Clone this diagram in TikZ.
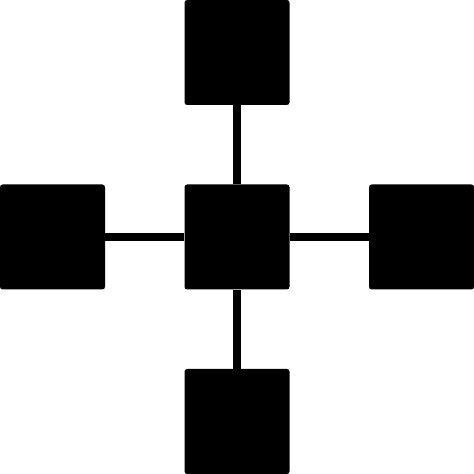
\documentclass[tikz,border=0pt]{standalone}
\usepackage{tikz}

\begin{document}
\begin{tikzpicture}[
		block/.style={fill=black, rounded corners=1.5pt, minimum size=2.1cm, inner sep=0pt},
		link/.style={line width=4pt, black}
	]
		% Frame of the picture
		\useasboundingbox (0,0) rectangle (9.48,9.48);

		% Draw blocks
		\node[block] (center) at (4.74, 4.74) {};
		\node[block] (top) at (4.74, 8.43) {};
		\node[block] (bottom) at (4.74, 1.05) {};
		\node[block] (left) at (1.05, 4.74) {};
		\node[block] (right) at (8.43, 4.74) {};

		% Connect blocks to the center
		\foreach \b in {top, bottom, left, right} {
				\draw[link] (center) -- (\b);
			}
	\end{tikzpicture}
\end{document}
